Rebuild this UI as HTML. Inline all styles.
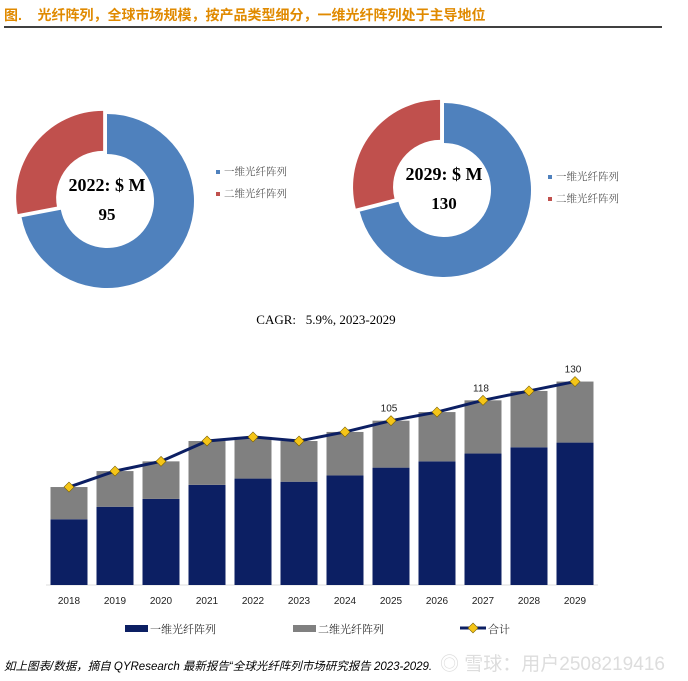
<!DOCTYPE html>
<html><head><meta charset="utf-8">
<style>
body{margin:0;background:#fff;width:688px;height:681px;overflow:hidden;font-family:"Liberation Serif","Noto Serif CJK SC",serif;}
svg{position:absolute;left:0;top:0}
</style></head>
<body>
<svg width="688" height="681" viewBox="0 0 688 681">
<text x="4" y="20" font-size="14" font-weight="bold" fill="#e08a00" font-family="Liberation Sans,'Noto Sans CJK SC',sans-serif">图.&#160;&#160;&#160;&#160;光纤阵列，全球市场规模，按产品类型细分，一维光纤阵列处于主导地位</text>
<line x1="4" y1="27" x2="662" y2="27" stroke="#000" stroke-width="1.5"/>
<g id="donuts"></g>
<text x="326" y="324" font-size="13" text-anchor="middle">CAGR:&#160;&#160;&#160;5.9%, 2023-2029</text>
<g id="bars"></g>
<g>
<rect x="125" y="625" width="23" height="7" fill="#0c1f63"/>
<text x="150" y="633" font-size="11" fill="#333" font-family="'Noto Serif CJK SC',serif">一维光纤阵列</text>
<rect x="293" y="625" width="23" height="7" fill="#808080"/>
<text x="318" y="633" font-size="11" fill="#333" font-family="'Noto Serif CJK SC',serif">二维光纤阵列</text>
<line x1="460" y1="628" x2="486" y2="628" stroke="#0c1f63" stroke-width="3"/>
<polygon points="473,623 478,628 473,633 468,628" fill="#f5c518" stroke="#7a6000" stroke-width="0.6"/>
<text x="488" y="633" font-size="11" fill="#333" font-family="'Noto Serif CJK SC',serif">合计</text>
</g>
<text x="4" y="670" font-size="11.5" font-style="italic" fill="#000" font-family="Liberation Sans,'Noto Sans CJK SC',sans-serif">如上图表/数据，摘自 QYResearch 最新报告“全球光纤阵列市场研究报告 2023-2029.</text>
<text x="440" y="670" font-size="19" fill="#ddd" font-family="Liberation Sans,'Noto Sans CJK SC',sans-serif">◎ 雪球：用户2508219416</text>
</svg>
<script>
const donutYears=["2022","2029"];
const donutTotals=[95,130];
const donutShare1D=[0.72,0.71];
const years=["2018","2019","2020","2021","2022","2023","2024","2025","2026","2027","2028","2029"];
const oneD=[42,50,55,64,68,66,70,75,79,84,88,91];
const totals=[62.6,72.8,79,92,94.6,92,97.8,105,110.5,118,124,130];
const labeled=[105,118,130];
const NS="http://www.w3.org/2000/svg";
function mk(t,a,p){const e=document.createElementNS(NS,t);for(const k in a)e.setAttribute(k,a[k]);p.appendChild(e);return e;}
// donuts
const dg=document.getElementById('donuts');
const centers=[[107,201],[444,190]];
function arc(cx,cy,r0,r1,a0,a1){
 const p=(r,a)=>[cx+r*Math.sin(a),cy-r*Math.cos(a)];
 const l=(a1-a0)>Math.PI?1:0;
 const [x1,y1]=p(r1,a0),[x2,y2]=p(r1,a1),[x3,y3]=p(r0,a1),[x4,y4]=p(r0,a0);
 return `M${x1},${y1}A${r1},${r1} 0 ${l} 1 ${x2},${y2}L${x3},${y3}A${r0},${r0} 0 ${l} 0 ${x4},${y4}Z`;
}
donutYears.forEach((y,i)=>{
 const [cx,cy]=centers[i];const s=donutShare1D[i]*2*Math.PI;
 const b=mk('path',{d:arc(cx,cy,47,87,0,s),fill:'#4f81bd'},dg);
 
 
 const mid=(s+2*Math.PI)/2;const ox=5*Math.sin(mid),oy=-5*Math.cos(mid);
 const r=mk('path',{d:arc(cx+ox,cy+oy,47,87,s,2*Math.PI),fill:'#c0504d'},dg);
 
 
 const t1=mk('text',{x:cx,y:cy-10,'font-size':18,'font-weight':'bold','text-anchor':'middle'},dg);t1.textContent=y+': $ M';
 
 
 const t2=mk('text',{x:cx,y:cy+19,'font-size':17,'font-weight':'bold','text-anchor':'middle'},dg);t2.textContent=donutTotals[i];
 
 
 const lx=[216,548][i],ly=[174,179][i];
 [['#4f81bd','一维光纤阵列'],['#c0504d','二维光纤阵列']].forEach((c,j)=>{
  mk('rect',{x:lx,y:ly+j*22-4,width:4,height:4,fill:c[0]},dg);
  const t=mk('text',{x:lx+8,y:ly+j*22+1,'font-size':10.5,fill:'#555','font-family':"'Noto Serif CJK SC',serif"},dg);t.textContent=c[1];
  
  
 });
});
// bars
const bg=document.getElementById('bars');
const base=585,k=1.565,x0=69,step=46,bw=37;
const X=i=>x0+i*step, Y=v=>base-v*k;
mk('line',{x1:46,y1:base,x2:598,y2:base,stroke:'#ddd'},bg);
years.forEach((yr,i)=>{
 const b=mk('rect',{x:X(i)-bw/2,y:Y(oneD[i]),width:bw,height:base-Y(oneD[i]),fill:'#0c1f63'},bg);
 
 
 const g=mk('rect',{x:X(i)-bw/2,y:Y(totals[i]),width:bw,height:Y(oneD[i])-Y(totals[i]),fill:'#808080'},bg);
 
 
 const t=mk('text',{x:X(i),y:base+19,'font-size':10,'text-anchor':'middle','font-family':'Liberation Sans,sans-serif',fill:'#222'},bg);t.textContent=yr;
 
 
});
const ln=mk('polyline',{points:totals.map((v,i)=>X(i)+','+Y(v)).join(' '),fill:'none',stroke:'#0c1f63','stroke-width':3},bg);


totals.forEach((v,i)=>{
 const x=X(i),y=Y(v);
 const d=mk('polygon',{points:`${x},${y-5} ${x+5},${y} ${x},${y+5} ${x-5},${y}`,fill:'#f5c518',stroke:'#7a6000','stroke-width':0.6},bg);
 
 
 if(labeled.includes(v)){
  const t=mk('text',{x:x-2,y:y-9,'font-size':10,'text-anchor':'middle','font-family':'Liberation Sans,sans-serif',fill:'#222'},bg);t.textContent=v;
  
  
 }
});
</script>
</body></html>
